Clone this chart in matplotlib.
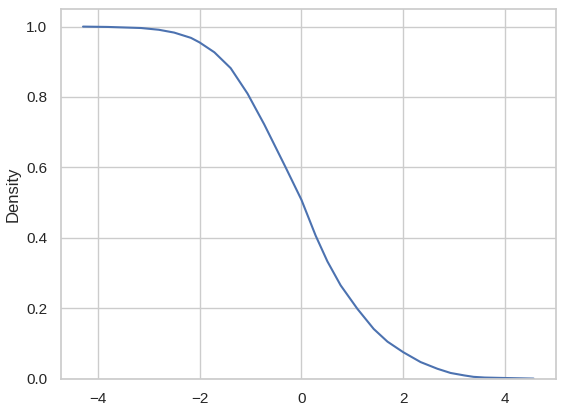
import matplotlib
matplotlib.use("Agg")
import matplotlib.pyplot as plt
import seaborn as sns

# survival curve
x_vals = [-4.29, -3.8, -3.15, -2.8, -2.5, -2.17, -2.0, -1.71, -1.39, -1.06,
          -0.73, -0.31, 0.0, 0.28, 0.51, 0.77, 1.10, 1.42, 1.69, 2.0,
          2.34, 2.67, 2.93, 3.2, 3.38, 3.6, 3.9, 4.56]
y_vals = [1.0, 0.999, 0.996, 0.991, 0.983, 0.968, 0.955, 0.927, 0.882, 0.81,
          0.722, 0.60, 0.508, 0.406, 0.333, 0.265, 0.198, 0.141, 0.105, 0.075,
          0.047, 0.028, 0.016, 0.009, 0.005, 0.003, 0.002, 0.0]

sns.set_theme(style="whitegrid")
plt.rcParams["font.family"] = ["Liberation Sans", "DejaVu Sans"]

fig = plt.figure(figsize=(5.65, 4.16), dpi=100)
ax = fig.add_axes([60.5 / 565, 37.4 / 416, 495.6 / 565, 369.6 / 416])

ax.plot(x_vals, y_vals, color=sns.color_palette("deep")[0], linewidth=1.5)
ax.set_ylim(0, 1.05)
ax.set_ylabel("Density")

fig.savefig("out.png", dpi=100)
